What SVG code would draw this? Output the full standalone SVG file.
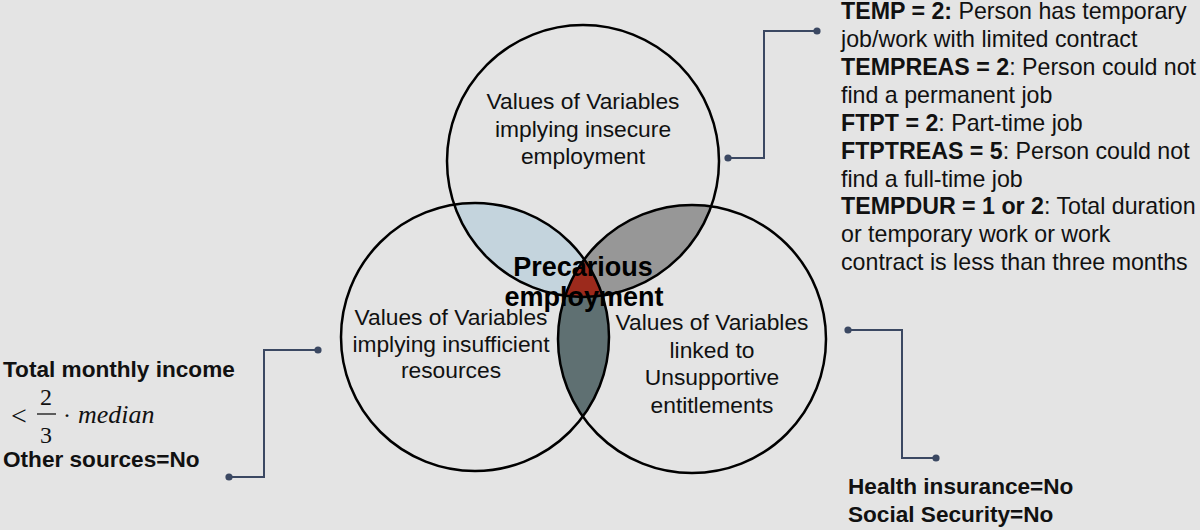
<svg xmlns="http://www.w3.org/2000/svg" width="1200" height="530" viewBox="0 0 1200 530">
<defs>
<clipPath id="cTop"><circle cx="583" cy="161" r="136"/></clipPath>
<clipPath id="cLeft"><circle cx="475" cy="337" r="134"/></clipPath>
<clipPath id="cRight"><circle cx="692" cy="339" r="134"/></clipPath>
<marker id="dot" viewBox="0 0 10 10" refX="5" refY="5" markerWidth="4" markerHeight="4" markerUnits="strokeWidth"><circle cx="5" cy="5" r="4.5" fill="#3b4862"/></marker>
</defs>
<style>
.ring{fill:none;stroke:#000;stroke-width:2.5}
.lbl{font-family:"Liberation Sans",Arial,sans-serif;font-size:22.8px;fill:#111;text-anchor:middle}
.big{font-family:"Liberation Sans",Arial,sans-serif;font-size:27px;font-weight:bold;fill:#000;text-anchor:middle}
.ann{font-family:"Liberation Sans",Arial,sans-serif;font-size:23.2px;fill:#111}
.bl{font-family:"Liberation Sans",Arial,sans-serif;font-size:22.6px;font-weight:bold;fill:#111}
.b{font-weight:bold}
.conn{fill:none;stroke:#3b4862;stroke-width:2;marker-start:url(#dot);marker-end:url(#dot)}
.math{font-family:"Liberation Serif","Times New Roman",serif;fill:#111}
</style>
<rect width="1200" height="530" fill="#e4e4e4"/>
<g id="overlaps">
<g clip-path="url(#cLeft)"><circle cx="583" cy="161" r="136" fill="#c4d4dd"/></g>
<g clip-path="url(#cRight)"><circle cx="583" cy="161" r="136" fill="#979797"/></g>
<g clip-path="url(#cLeft)"><circle cx="692" cy="339" r="134" fill="#5f7072"/></g>
<g clip-path="url(#cLeft)"><g clip-path="url(#cTop)"><circle cx="692" cy="339" r="134" fill="#9c2a1c"/></g></g>
</g>
<g id="circle-insecure">
<circle class="ring" cx="583" cy="161" r="136"/>
<text class="lbl" x="583" y="109">Values of Variables</text>
<text class="lbl" x="583" y="137">implying insecure</text>
<text class="lbl" x="583" y="164">employment</text>
</g>
<g id="circle-insufficient">
<circle class="ring" cx="475" cy="337" r="134"/>
<text class="lbl" x="451" y="325">Values of Variables</text>
<text class="lbl" x="451" y="352">implying insufficient</text>
<text class="lbl" x="451" y="378">resources</text>
</g>
<g id="circle-entitlements">
<circle class="ring" cx="692" cy="339" r="134"/>
<text class="lbl" x="712" y="330">Values of Variables</text>
<text class="lbl" x="712" y="358">linked to</text>
<text class="lbl" x="712" y="385">Unsupportive</text>
<text class="lbl" x="712" y="413">entitlements</text>
</g>
<g id="precarious">
<text class="big" x="583" y="276">Precarious</text>
<text class="big" x="584" y="306">employment</text>
</g>
<g id="connectors">
<polyline class="conn" points="728,158 764,158 764,31 817,31"/>
<polyline class="conn" points="318,350 264,350 264,477 229,477"/>
<polyline class="conn" points="848,330 902,330 902,458 936,458"/>
</g>
<g id="note-insecure">
<text class="ann" x="841" y="19"><tspan class="b">TEMP = 2:</tspan> Person has temporary</text>
<text class="ann" x="841" y="47">job/work with limited contract</text>
<text class="ann" x="841" y="75"><tspan class="b">TEMPREAS = 2</tspan>: Person could not</text>
<text class="ann" x="841" y="103">find a permanent job</text>
<text class="ann" x="841" y="131"><tspan class="b">FTPT = 2</tspan>: Part-time job</text>
<text class="ann" x="841" y="159"><tspan class="b">FTPTREAS = 5</tspan>: Person could not</text>
<text class="ann" x="841" y="187">find a full-time job</text>
<text class="ann" x="841" y="214"><tspan class="b">TEMPDUR = 1 or 2</tspan>: Total duration</text>
<text class="ann" x="841" y="242">or temporary work or work</text>
<text class="ann" x="841" y="270">contract is less than three months</text>
</g>
<g id="note-income">
<text class="bl" x="3" y="377">Total monthly income</text>
<text class="math" x="11" y="425" font-size="28">&lt;</text>
<text class="math" x="46" y="405" font-size="24" text-anchor="middle">2</text>
<line x1="37" y1="414" x2="56" y2="414" stroke="#111" stroke-width="1.3"/>
<text class="math" x="46" y="443" font-size="24" text-anchor="middle">3</text>
<text class="math" x="63" y="423" font-size="24">·</text>
<text class="math" x="78" y="423" font-size="26" font-style="italic">median</text>
<text class="bl" x="3" y="467">Other sources=No</text>
</g>
<g id="note-entitlements">
<text class="bl" x="848" y="494">Health insurance=No</text>
<text class="bl" x="848" y="522">Social Security=No</text>
</g>
</svg>
